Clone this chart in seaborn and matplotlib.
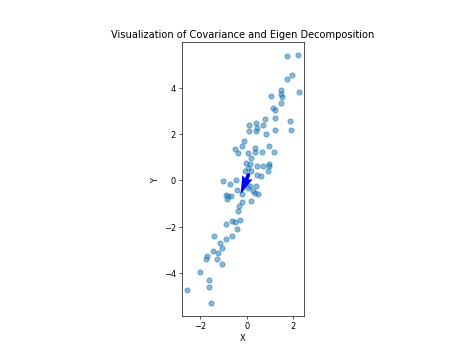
import numpy as np
import pandas as pd
import matplotlib
matplotlib.use('Agg')
import matplotlib.pyplot as plt
import seaborn as sns

# Точки
x_vals = [1.73, 2.22, 1.76, 1.96, 2.24, 1.06, 1.47, 1.50, 1.51, 1.47,
          1.13, 1.24, 1.88, 1.91, 1.22, 1.22, 0.78, 0.41, 0.11, 0.11,
          0.43, 0.39, 0.72, 0.85, -0.11, -0.19, -0.48, -0.38, 0.07, 0.34,
          0.34, 0.68, 0.96, 1.19, 0.98, 0.96, 0.45, 0.15, 0.19, -0.01,
          0.71, 0.90, 0.18, 0.08, 0.45, 0.60, -0.05, -1.00, -0.72, -0.44,
          -0.41, -0.21, -0.90, -0.80, -0.67, -0.84, -0.22, -0.32, -0.37, -0.30,
          -0.51, -0.61, -0.88, -0.40, -0.88, -0.63, -1.42, -1.14, -1.06, -1.46,
          -1.25, -1.71, -1.73, -1.26, -1.04, -2.00, -1.63, -1.63, -2.56, -1.54,
          0.15, 0.39, 0.27, 0.47, 0.38, 0.17, 0.07]
y_vals = [5.38, 5.42, 4.39, 4.52, 3.81, 3.63, 3.90, 3.74, 3.61, 3.33,
          3.13, 3.03, 2.55, 2.19, 2.69, 2.17, 2.65, 2.46, 2.40, 2.15,
          2.26, 2.15, 2.38, 2.00, 1.70, 1.48, 1.36, 1.19, 1.20, 1.38,
          1.21, 1.21, 1.49, 1.23, 0.72, 0.64, 0.61, 0.72, 0.95, 0.77,
          0.64, 0.41, 0.40, 0.53, 0.25, 0.19, 0.39, -0.01, -0.15, 0.03,
          -0.41, -0.57, -0.63, -0.68, -0.68, -0.81, -0.93, -1.12, -1.32, -1.71,
          -1.78, -1.75, -1.86, -2.10, -2.51, -2.41, -2.40, -2.69, -2.90, -3.06,
          -3.13, -3.24, -3.38, -3.40, -3.59, -3.93, -4.28, -4.57, -4.72, -5.30,
          -0.25, -0.23, -0.47, -0.60, -0.54, -0.89, -0.31]

df = pd.DataFrame({'X': x_vals, 'Y': y_vals})

# Ковариация и собственное разложение
cov = np.cov(df['X'], df['Y'])
eig_vals, eig_vecs = np.linalg.eig(cov)
mean = df[['X', 'Y']].mean().values

fig, ax = plt.subplots(figsize=(8, 6), dpi=59.25)
sns.scatterplot(data=df, x='X', y='Y', alpha=0.5, color='#1f77b4',
                edgecolor='face', linewidth=1.5, s=36, ax=ax)
ax.quiver([mean[0]] * 2, [mean[1]] * 2,
          eig_vecs[0, :] * eig_vals, eig_vecs[1, :] * eig_vals,
          color='blue', width=0.03, scale=40)
ax.set_aspect('equal')
ax.set_title('Visualization of Covariance and Eigen Decomposition')
ax.set_xlabel('X')
ax.set_ylabel('Y')
fig.savefig('out.png', dpi=59.25)
